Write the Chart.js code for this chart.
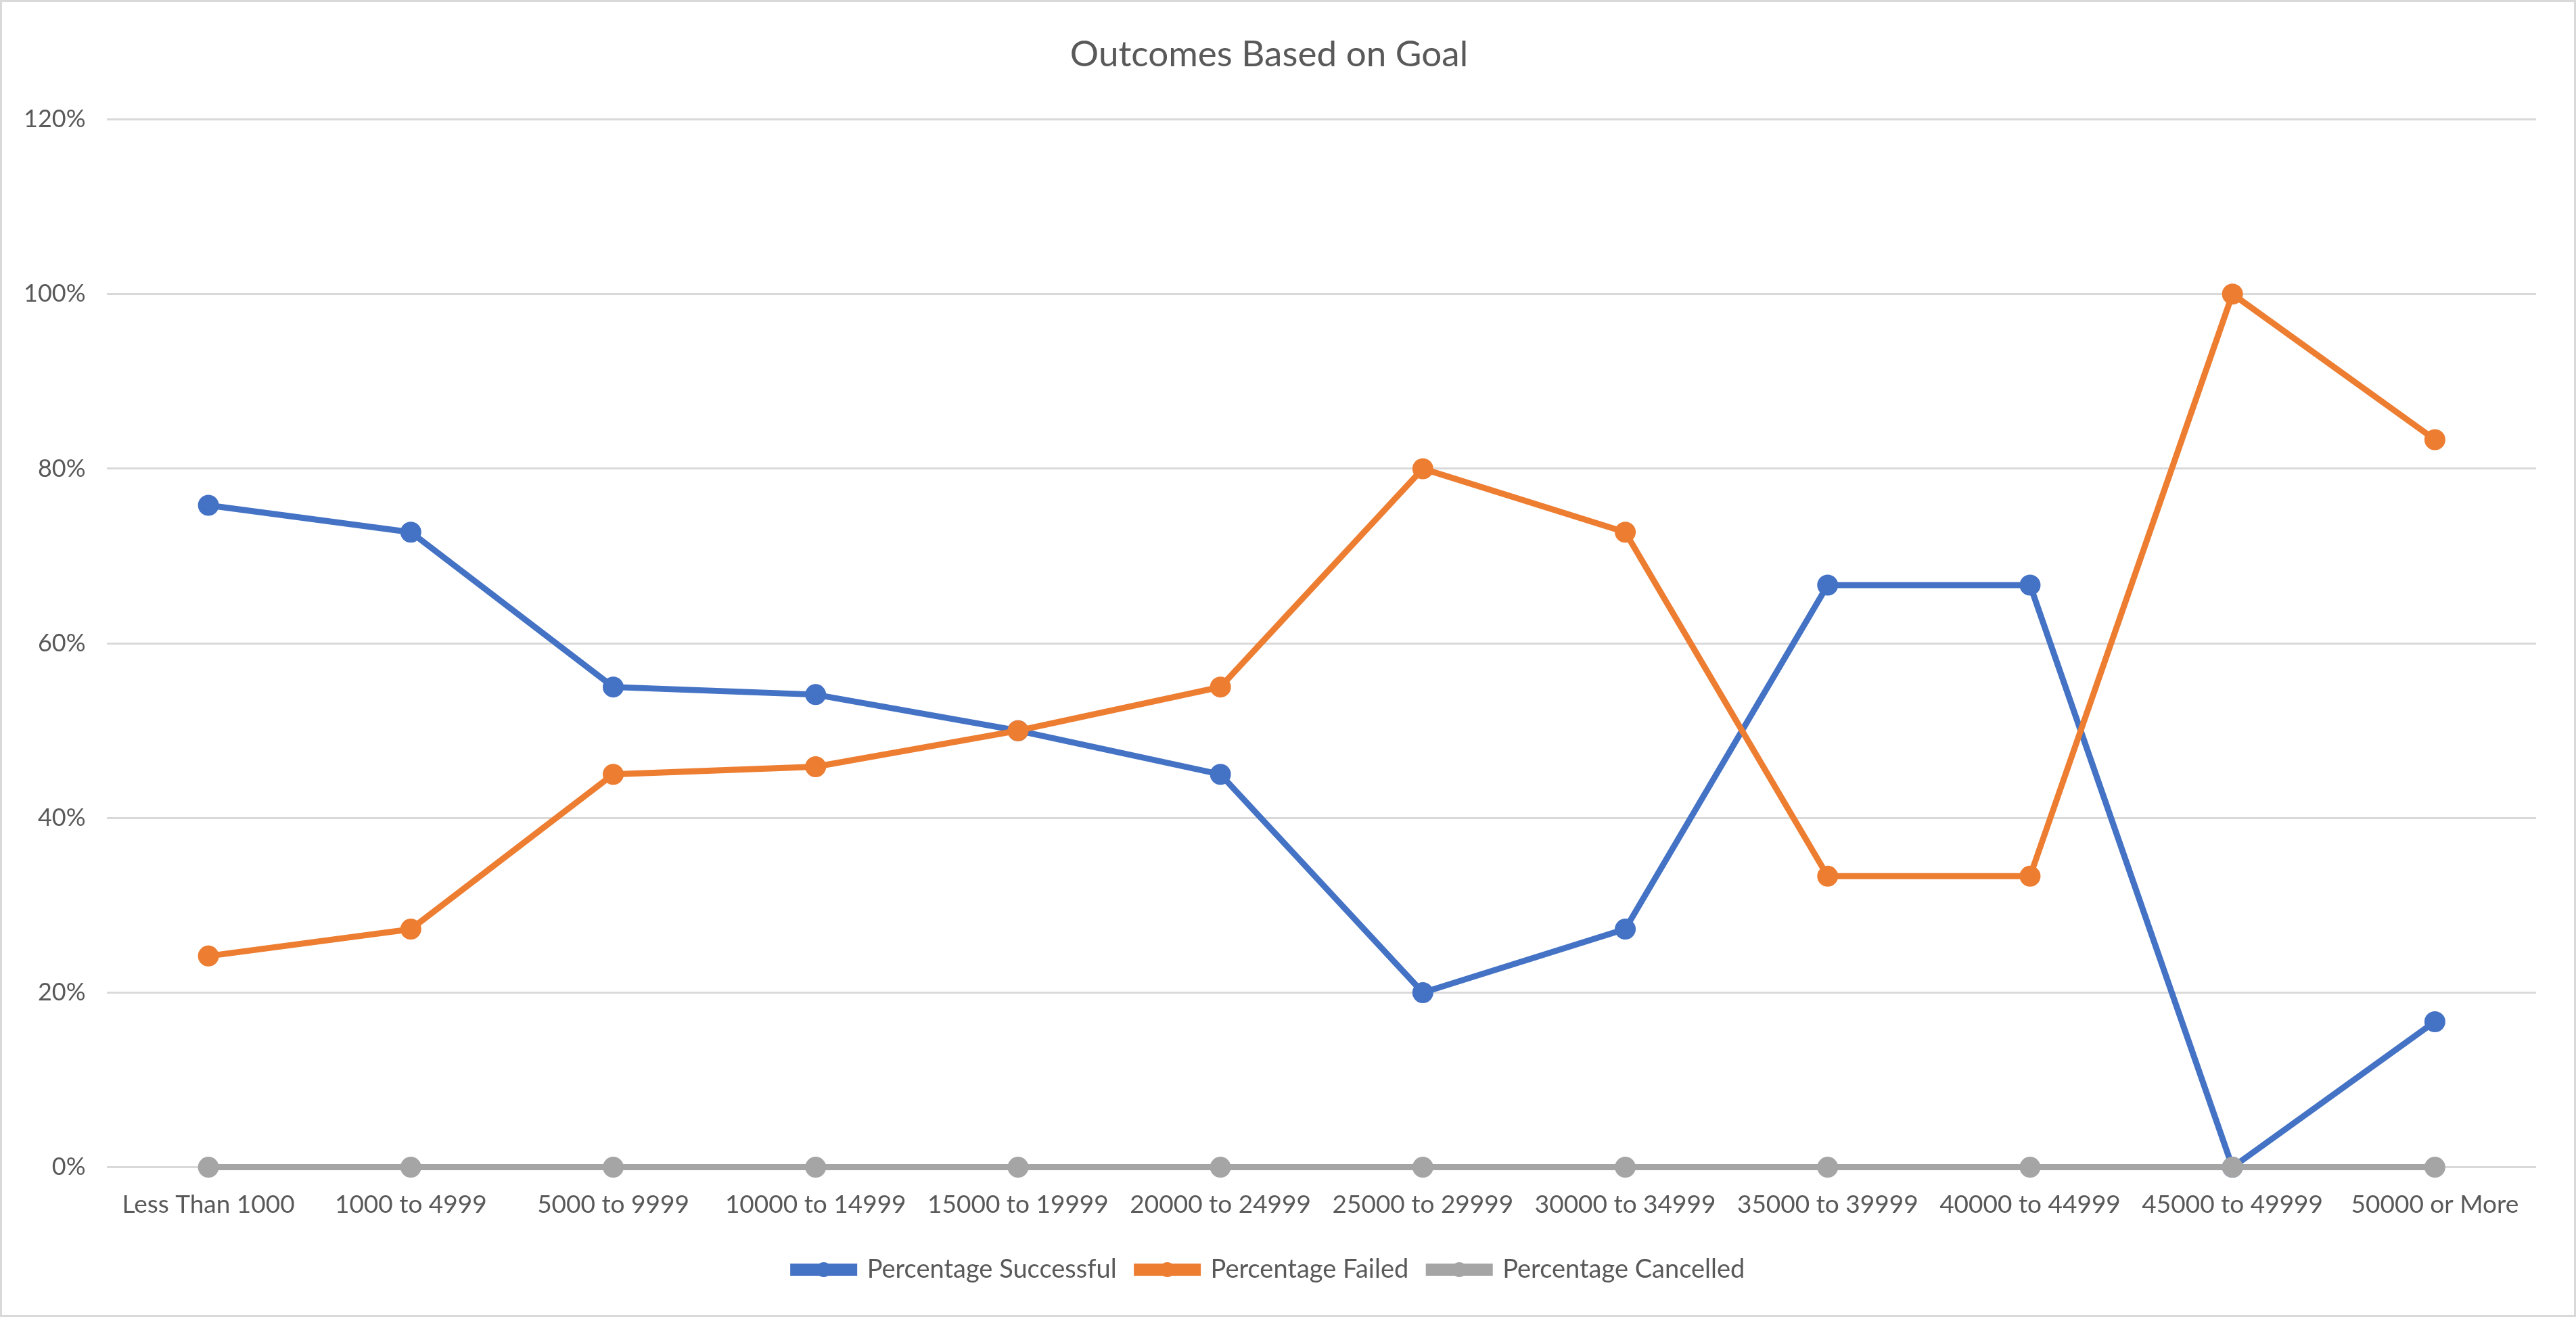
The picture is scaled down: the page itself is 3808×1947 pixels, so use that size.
<!DOCTYPE html>
<html>
<head>
<meta charset="utf-8">
<script src="https://cdn.jsdelivr.net/npm/chart.js@4"></script>
<style>
    html, body { margin: 0; padding: 0; background: #fff; }
    #wrap {
        position: absolute; left: 0; top: 0;
        width: 3808px; height: 1947px;
        box-sizing: border-box;
        border: 3px solid #d9d9d9;
        background: #fff;
    }
</style>
</head>
<body>
<div id="wrap"><canvas id="goal_chart"></canvas></div>
<script>
const goalRanges = [
    'Less Than 1000', '1000 to 4999', '5000 to 9999', '10000 to 14999',
    '15000 to 19999', '20000 to 24999', '25000 to 29999', '30000 to 34999',
    '35000 to 39999', '40000 to 44999', '45000 to 49999', '50000 or More'
]

const pctSuccessful = [0.7581, 0.7273, 0.55, 0.5413, 0.5, 0.45, 0.2, 0.2727, 0.6667, 0.6667, 0, 0.1667]
const pctFailed = [0.2419, 0.2727, 0.45, 0.4587, 0.5, 0.55, 0.8, 0.7273, 0.3333, 0.3333, 1, 0.8333]
const pctCancelled = [0, 0, 0, 0, 0, 0, 0, 0, 0, 0, 0, 0]

const yTicks = [0, 0.2, 0.4, 0.6, 0.8, 1.0, 1.2]

const textColor = '#595959'
const fontFamily = 'Lato, "Open Sans", sans-serif'

// one line series
const makeSet = (label, data, color, order) => ({
    label: label,
    data: data,
    borderColor: color,
    backgroundColor: color,
    pointBackgroundColor: color,
    pointBorderColor: color,
    borderWidth: 9,
    pointRadius: 11,
    pointHoverRadius: 11,
    tension: 0,
    order: order,
    clip: false
})

// circle marker in the middle of each legend line
const legendMarkers = {
    id: 'legendMarkers',
    afterDraw(chart) {
        const legend = chart.legend
        if (!legend || !legend.legendHitBoxes) return
        const ctx = chart.ctx
        const boxW = legend.options.labels.boxWidth
        legend.legendItems.forEach((item, i) => {
            const box = legend.legendHitBoxes[i]
            ctx.save()
            ctx.fillStyle = item.fillStyle
            ctx.beginPath()
            ctx.arc(box.left + boxW / 2, box.top + box.height / 2, 11, 0, Math.PI * 2)
            ctx.fill()
            ctx.restore()
        })
    }
}

const renderChart = () => {
    new Chart(document.getElementById('goal_chart'), {
        type: 'line',
        data: {
            labels: goalRanges,
            datasets: [
                makeSet('Percentage Successful', pctSuccessful, '#4472C4', 2),
                makeSet('Percentage Failed', pctFailed, '#ED7D31', 1),
                makeSet('Percentage Cancelled', pctCancelled, '#A5A5A5', 0)
            ]
        },
        options: {
            responsive: true,
            maintainAspectRatio: false,
            animation: false,
            layout: {
                padding: { top: 22, left: 0, right: 56, bottom: 38 }
            },
            plugins: {
                title: {
                    display: true,
                    text: 'Outcomes Based on Goal',
                    color: textColor,
                    font: { family: fontFamily, size: 53, weight: 'normal' },
                    padding: { top: 24, bottom: 64 }
                },
                legend: {
                    position: 'bottom',
                    labels: {
                        sort: (a, b) => a.datasetIndex - b.datasetIndex,
                        boxWidth: 90,
                        boxHeight: 9,
                        color: textColor,
                        font: { family: fontFamily, size: 38 },
                        padding: 30
                    }
                },
                tooltip: { enabled: false }
            },
            scales: {
                x: {
                    offset: true,
                    grid: { display: false },
                    border: { display: false },
                    ticks: {
                        color: textColor,
                        font: { family: fontFamily, size: 37 },
                        padding: 25,
                        maxRotation: 0,
                        autoSkip: false
                    }
                },
                y: {
                    min: 0,
                    max: 1.2,
                    afterBuildTicks: (axis) => {
                        axis.ticks = yTicks.map(v => ({ value: v }))
                    },
                    grid: { color: '#d9d9d9', lineWidth: 3, drawTicks: false },
                    border: { display: false },
                    ticks: {
                        color: textColor,
                        font: { family: fontFamily, size: 36 },
                        padding: 32,
                        callback: (v) => Math.round(v * 100) + '%'
                    }
                }
            }
        },
        plugins: [legendMarkers]
    })
}

renderChart()
</script>
</body>
</html>
